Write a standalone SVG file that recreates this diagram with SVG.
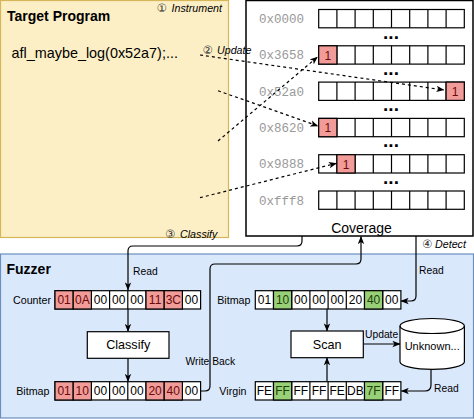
<svg xmlns="http://www.w3.org/2000/svg" xmlns:xlink="http://www.w3.org/1999/xlink" width="474" height="419" viewBox="0 0 474 419">
<style>
text{font-family:"Liberation Sans",Arial,sans-serif;fill:#000}
.addr{font-family:"Liberation Mono","Courier New",monospace;font-size:12.5px;fill:#999}
.cv{font-size:12px;text-anchor:middle}
.rv{fill:#6a0a0a}
.gv{fill:#1f3f08}
.lbl{font-size:10.3px}
.rl{font-size:10.7px;text-anchor:end}
.step{font-size:10.7px;font-style:italic}
.circ{font-family:"DejaVu Sans",sans-serif;font-style:normal;font-size:11.5px;fill:#333}
.dots{font-size:19px;font-weight:bold;text-anchor:middle}
.red{fill:#f19c99;stroke:#000;stroke-width:1.2}
.grn{fill:#97d077;stroke:#000;stroke-width:1.2}
.ln{fill:none;stroke:#000;stroke-width:1.2}
.dash{fill:none;stroke:#000;stroke-width:1.2;stroke-dasharray:3 3}
.box{fill:#fff;stroke:#000;stroke-width:1.2}
</style>
<defs>
<marker id="ah" viewBox="0 0 10 8" refX="9.5" refY="4" markerWidth="8" markerHeight="7" markerUnits="userSpaceOnUse" orient="auto">
<path d="M0,0 L10,4 L0,8 L2.5,4 Z" fill="#000"/>
</marker>
<g id="row">
<rect x="0" y="0" width="145.6" height="18.3" fill="#fff" stroke="#000" stroke-width="1.2"/>
<path d="M18.2,0V18.3M36.4,0V18.3M54.6,0V18.3M72.8,0V18.3M91,0V18.3M109.2,0V18.3M127.4,0V18.3" stroke="#000" stroke-width="1.2"/>
</g>
</defs>

<!-- Containers -->
<g id="target-program">
<rect x="0.5" y="0.5" width="228" height="237" fill="#fcefc6" stroke="#d6b656" stroke-width="1.2"/>
<text x="7" y="21" font-size="14" font-weight="bold">Target Program</text>
<text x="11.5" y="57.5" font-size="14.4">afl_maybe_log(0x52a7);...</text>
</g>

<g id="fuzzer">
<rect x="0.5" y="254" width="473" height="164" fill="#dae8fc" stroke="#6c8ebf" stroke-width="1.2"/>
<text x="6.5" y="273.5" font-size="14" font-weight="bold">Fuzzer</text>
</g>

<g id="coverage">
<rect x="246" y="0.5" width="227" height="235.5" fill="#fff" stroke="#000" stroke-width="1.5"/>
<text class="addr" x="259" y="23">0x0000</text>
<text class="addr" x="259" y="59.3">0x3658</text>
<text class="addr" x="259" y="95.6">0x52a0</text>
<text class="addr" x="259" y="131.9">0x8620</text>
<text class="addr" x="259" y="168.2">0x9888</text>
<text class="addr" x="259" y="204.5">0xfff8</text>
<use xlink:href="#row" x="318.7" y="9.5"/>
<use xlink:href="#row" x="318.7" y="45.8"/>
<use xlink:href="#row" x="318.7" y="82.1"/>
<use xlink:href="#row" x="318.7" y="118.4"/>
<use xlink:href="#row" x="318.7" y="154.7"/>
<use xlink:href="#row" x="318.7" y="191"/>
<rect class="red" x="318.7" y="45.8" width="18.2" height="18.3"/>
<rect class="red" x="446.1" y="82.1" width="18.2" height="18.3"/>
<rect class="red" x="318.7" y="118.4" width="18.2" height="18.3"/>
<rect class="red" x="336.9" y="154.7" width="18.2" height="18.3"/>
<text class="cv rv" x="327.8" y="59.6">1</text>
<text class="cv rv" x="455.2" y="96">1</text>
<text class="cv rv" x="327.8" y="132.3">1</text>
<text class="cv rv" x="346" y="168.6">1</text>
<text class="dots" x="391" y="38.5">...</text>
<text class="dots" x="391" y="74.8">...</text>
<text class="dots" x="391" y="111.1">...</text>
<text class="dots" x="391" y="147.4">...</text>
<text class="dots" x="391" y="183.7">...</text>
<text x="361.5" y="233" font-size="14" text-anchor="middle">Coverage</text>
</g>

<!-- Connectors -->
<g id="connectors">
<path class="dash" d="M200,55 L444,90" marker-end="url(#ah)"/>
<path class="dash" d="M218,90.7 L318,126" marker-end="url(#ah)"/>
<path class="dash" d="M218,141 L317.5,57" marker-end="url(#ah)"/>
<path class="dash" d="M200,197.7 L336.5,163.3" marker-end="url(#ah)"/>
<path class="ln" d="M302,236 V241 Q302,246 297,246 H133 Q128,246 128,251 V290" marker-end="url(#ah)"/>
<path class="ln" d="M128,309 V331.5" marker-end="url(#ah)"/>
<path class="ln" d="M128,358.3 V381.5" marker-end="url(#ah)"/>
<path class="ln" d="M201,391 H205 Q210,391 210,386 V269 Q210,264 215,264 H356 Q361,264 361,259 V236.5" marker-end="url(#ah)"/>
<path class="ln" d="M416,236 V296 Q416,301 411,301 H401" marker-end="url(#ah)"/>
<path class="ln" d="M327,309 V331" marker-end="url(#ah)"/>
<path class="ln" d="M327,381.5 V357.7" marker-end="url(#ah)"/>
<path class="ln" d="M363.3,344 H400" marker-end="url(#ah)"/>
<path class="ln" d="M431,369.5 V385 Q431,391 425,391 H401.2" marker-end="url(#ah)"/>
<text class="lbl" x="133" y="275">Read</text>
<text class="lbl" x="185.5" y="365">Write Back</text>
<text class="lbl" x="419" y="274">Read</text>
<text class="lbl" x="365" y="337.5">Update</text>
<text class="lbl" x="434" y="392">Read</text>
<text class="step" x="156.5" y="12"><tspan class="circ">①</tspan><tspan x="171.5">Instrument</tspan></text>
<text class="step" x="202.5" y="53.5"><tspan class="circ">②</tspan><tspan x="217">Update</tspan></text>
<text class="step" x="165" y="237.5"><tspan class="circ">③</tspan><tspan x="180">Classify</tspan></text>
<text class="step" x="422" y="247.5"><tspan class="circ">④</tspan><tspan x="435">Detect</tspan></text>
</g>

<!-- Fuzzer nodes -->
<g id="counter">
<text class="rl" x="51" y="303.5">Counter</text>
<use xlink:href="#row" x="55" y="290.7"/>
<rect class="red" x="55" y="290.7" width="18.2" height="18.3"/>
<rect class="red" x="73.2" y="290.7" width="18.2" height="18.3"/>
<rect class="red" x="146" y="290.7" width="18.2" height="18.3"/>
<rect class="red" x="164.2" y="290.7" width="18.2" height="18.3"/>
<text class="cv rv" x="64.1" y="304.2">01</text>
<text class="cv rv" x="82.3" y="304.2">0A</text>
<text class="cv" x="100.5" y="304.2">00</text>
<text class="cv" x="118.7" y="304.2">00</text>
<text class="cv" x="136.9" y="304.2">00</text>
<text class="cv rv" x="155.1" y="304.2">11</text>
<text class="cv rv" x="173.3" y="304.2">3C</text>
<text class="cv" x="191.5" y="304.2">00</text>
</g>

<g id="classify">
<rect class="box" x="87.3" y="331.7" width="81.7" height="26.6"/>
<text x="128.2" y="349" font-size="12.6" text-anchor="middle">Classify</text>
</g>

<g id="bitmap-left">
<text class="rl" x="49.5" y="394.5">Bitmap</text>
<use xlink:href="#row" x="55" y="381.7"/>
<rect class="red" x="55" y="381.7" width="18.2" height="18.3"/>
<rect class="red" x="73.2" y="381.7" width="18.2" height="18.3"/>
<rect class="red" x="146" y="381.7" width="18.2" height="18.3"/>
<rect class="red" x="164.2" y="381.7" width="18.2" height="18.3"/>
<text class="cv rv" x="64.1" y="395.2">01</text>
<text class="cv rv" x="82.3" y="395.2">10</text>
<text class="cv" x="100.5" y="395.2">00</text>
<text class="cv" x="118.7" y="395.2">00</text>
<text class="cv" x="136.9" y="395.2">00</text>
<text class="cv rv" x="155.1" y="395.2">20</text>
<text class="cv rv" x="173.3" y="395.2">40</text>
<text class="cv" x="191.5" y="395.2">00</text>
</g>

<g id="bitmap-right">
<text class="rl" x="250.5" y="303.5">Bitmap</text>
<use xlink:href="#row" x="255.3" y="290.7"/>
<rect class="grn" x="273.5" y="290.7" width="18.2" height="18.3"/>
<rect class="grn" x="364.5" y="290.7" width="18.2" height="18.3"/>
<text class="cv" x="264.4" y="304.2">01</text>
<text class="cv gv" x="282.6" y="304.2">10</text>
<text class="cv" x="300.8" y="304.2">00</text>
<text class="cv" x="319" y="304.2">00</text>
<text class="cv" x="337.2" y="304.2">00</text>
<text class="cv" x="355.4" y="304.2">20</text>
<text class="cv gv" x="373.6" y="304.2">40</text>
<text class="cv" x="391.8" y="304.2">00</text>
</g>

<g id="scan">
<rect class="box" x="291" y="331" width="72.3" height="26.7"/>
<text x="327.2" y="348.5" font-size="12.6" text-anchor="middle">Scan</text>
</g>

<g id="unknown">
<path d="M400,326 A32.2,7.5 0 0 1 464.4,326 V361.8 A32.2,7.5 0 0 1 400,361.8 Z" fill="#fff" stroke="#000" stroke-width="1.2"/>
<path d="M400,326 A32.2,7.5 0 0 0 464.4,326" fill="none" stroke="#000" stroke-width="1.2"/>
<text x="432.2" y="350" font-size="11" text-anchor="middle">Unknown...</text>
</g>

<g id="virgin">
<text class="rl" x="246.5" y="394.5">Virgin</text>
<use xlink:href="#row" x="255.3" y="381.7"/>
<rect class="grn" x="273.5" y="381.7" width="18.2" height="18.3"/>
<rect class="grn" x="364.5" y="381.7" width="18.2" height="18.3"/>
<text class="cv" x="264.4" y="395.2">FE</text>
<text class="cv gv" x="282.6" y="395.2">FF</text>
<text class="cv" x="300.8" y="395.2">FF</text>
<text class="cv" x="319" y="395.2">FF</text>
<text class="cv" x="337.2" y="395.2">FE</text>
<text class="cv" x="355.4" y="395.2">DB</text>
<text class="cv gv" x="373.6" y="395.2">7F</text>
<text class="cv" x="391.8" y="395.2">FF</text>
</g>
</svg>
